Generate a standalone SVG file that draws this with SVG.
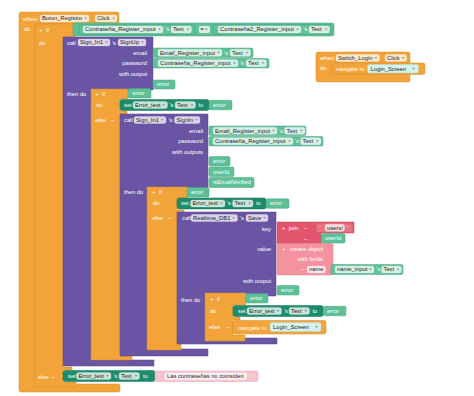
<svg xmlns="http://www.w3.org/2000/svg" width="474" height="396" viewBox="0 0 474 396">
<style>
text{font-family:"Liberation Sans",Arial,sans-serif;font-size:5.8px}
.w{fill:#fff}
.d{fill:#222}
.e{text-anchor:end}
.ev{fill:#F2A43B;stroke:#D68D2A;stroke-width:.5}
.pu{fill:#6A55A5;stroke:#56448C;stroke-width:.5}
.mi{fill:#5EC097;stroke:#47A47D;stroke-width:.5}
.st{fill:#1E8B6C;stroke:#16725A;stroke-width:.5}
.jn{fill:#E1566C;stroke:#C64459;stroke-width:.5}
.tx{fill:#E8707F;stroke:#CF5367;stroke-width:.5}
.co{fill:#F4939F;stroke:#DD7A87;stroke-width:.5}
.ps{fill:#F6C2CD;stroke:#E3A7B4;stroke-width:.5}
.lg{fill:#D7F1EC;stroke:#A8D9CF;stroke-width:.5}
.ch{fill:#fff;fill-opacity:.75;stroke:#fff;stroke-opacity:.5;stroke-width:.4}
.tri{fill:#9a9a9a}
</style>
<defs>
<path id="tri" class="tri" d="M0,0 h3 l-1.5,2 z"/>
</defs>
<rect width="474" height="396" fill="#fff"/>

<g id="connectors"></g>

<g id="when-boton-registro">
<path class="ev" d="M19,14 Q19,12 21,12 H117 Q119,12 119,14 V24 H35 V384 H118 Q120,384 120,386 V390 Q120,392 118,392 H21 Q19,392 19,390 Z"/>
<text class="w" x="23" y="20.5">when</text>
<rect class="ch" x="40" y="15" width="49" height="7" rx="2"/><text class="d" x="42" y="20.4">Boton_Registro</text><use href="#tri" x="84" y="17.5"/>
<rect class="ch" x="95" y="15" width="22" height="7" rx="2"/><text class="d" x="97" y="20.4">Click</text><use href="#tri" x="112" y="17.5"/>
<text class="w" x="24" y="31">do</text>
</g>

<g id="if-passwords-match">
<path class="ev" d="M35,24 H75 V37 H63 V367 H72 V370 H63 V382 H76 V387 H35 Z"/>
<text class="w" x="39" y="31.5">+</text><text class="w" x="46" y="31.5">if</text>
<text class="w" x="39" y="44.5">do</text>
<text class="w" x="38" y="378.5">else</text><text class="w" x="51" y="378.5">−</text>
</g>

<g id="compare-passwords">
<rect class="mi" x="73" y="23" width="261" height="13" rx="2"/>
<rect class="mi" x="79" y="24.5" width="116" height="10" rx="1.5"/>
<rect class="ch" x="83" y="26" width="80" height="7" rx="2"/><text class="d" x="85" y="31.4">Contraseña_Register_input</text><use href="#tri" x="158" y="28.5"/>
<text class="w" x="165.5" y="31.4">'s</text>
<rect class="ch" x="171" y="26" width="20.5" height="7" rx="2"/><text class="d" x="173" y="31.4">Text</text><use href="#tri" x="186.5" y="28.5"/>
<rect class="ch" x="199" y="26" width="11" height="7" rx="2"/><text class="d" x="200.5" y="31.4">=</text><use href="#tri" x="205" y="28.5"/>
<rect class="mi" x="213" y="24.5" width="119" height="10" rx="1.5"/>
<rect class="ch" x="218" y="26" width="83" height="7" rx="2"/><text class="d" x="220" y="31.4">Contraseña2_Register_input</text><use href="#tri" x="296" y="28.5"/>
<text class="w" x="303.5" y="31.4">'s</text>
<rect class="ch" x="309" y="26" width="20.5" height="7" rx="2"/><text class="d" x="311" y="31.4">Text</text><use href="#tri" x="324.5" y="28.5"/>
</g>

<g id="call-signup">
<path class="pu" d="M63,37 H153 V90 H91 V360 H154 V366 H63 Z"/>
<text class="w" x="67" y="44.5">call</text>
<rect class="ch" x="78" y="39" width="32" height="7" rx="2"/><text class="d" x="80" y="44.4">Sign_In1</text><use href="#tri" x="105" y="41.5"/>
<text class="w" x="112" y="44.5">'s</text>
<rect class="ch" x="118" y="39" width="28" height="7" rx="2"/><text class="d" x="120" y="44.4">SignUp</text><use href="#tri" x="141" y="41.5"/>
<text class="w e" x="147" y="54.5">email</text>
<text class="w e" x="147" y="65">password</text>
<text class="w e" x="147" y="75.5">with output</text>
<text class="w" x="67" y="96">then do</text>
<rect class="mi" x="153" y="48" width="100" height="9.5" rx="1.5"/>
<rect class="ch" x="158" y="49.2" width="64" height="7" rx="2"/><text class="d" x="160" y="54.6">Email_Register_input</text><use href="#tri" x="217" y="51.7"/>
<text class="w" x="224" y="54.6">'s</text>
<rect class="ch" x="230" y="49.2" width="20.5" height="7" rx="2"/><text class="d" x="232" y="54.6">Text</text><use href="#tri" x="245.5" y="51.7"/>
<rect class="mi" x="153" y="58.5" width="116" height="9.5" rx="1.5"/>
<rect class="ch" x="158" y="59.7" width="80" height="7" rx="2"/><text class="d" x="160" y="65.1">Contraseña_Register_input</text><use href="#tri" x="233" y="62.2"/>
<text class="w" x="240" y="65.1">'s</text>
<rect class="ch" x="246" y="59.7" width="20.5" height="7" rx="2"/><text class="d" x="248" y="65.1">Text</text><use href="#tri" x="261.5" y="62.2"/>
<rect class="mi" x="153" y="80" width="22" height="9" rx="1.5"/><text class="w" x="157" y="86.3">error</text>
</g>

<g id="if-signup-error">
<path class="ev" d="M91,89 H128 V99 H120 V111 H127 V114 H120 V354 H132 V360 H91 Z"/>
<text class="w" x="95" y="96">+</text><text class="w" x="102" y="96">if</text>
<text class="w" x="96" y="106.5">do</text>
<text class="w" x="95" y="121.5">else</text><text class="w" x="111" y="121.5">−</text>
<rect class="mi" x="128" y="88.5" width="23" height="9.5" rx="1.5"/><text class="w" x="132.5" y="95">error</text>
</g>

<g id="set-error-1">
<rect class="st" x="120" y="99.5" width="89" height="11" rx="2"/>
<text class="w" x="124" y="106.8">set</text>
<rect class="ch" x="133" y="101.5" width="34.5" height="7" rx="2"/><text class="d" x="135" y="106.9">Error_text</text><use href="#tri" x="162" y="104"/>
<text class="w" x="169.5" y="106.8">'s</text>
<rect class="ch" x="175" y="101.5" width="20.5" height="7" rx="2"/><text class="d" x="177" y="106.9">Text</text><use href="#tri" x="190.5" y="104"/>
<text class="w" x="198.5" y="106.8">to</text>
<rect class="mi" x="209" y="100.3" width="23" height="9.5" rx="1.5"/><text class="w" x="213" y="106.8">error</text>
</g>

<g id="call-signin">
<path class="pu" d="M120,114 H208 V189 H147 V349 H208 V356 H120 Z"/>
<text class="w" x="124" y="121.5">call</text>
<rect class="ch" x="134" y="116.5" width="32" height="7" rx="2"/><text class="d" x="136" y="121.9">Sign_In1</text><use href="#tri" x="161" y="119"/>
<text class="w" x="168.5" y="121.5">'s</text>
<rect class="ch" x="174.5" y="116.5" width="25.5" height="7" rx="2"/><text class="d" x="176.5" y="121.9">SignIn</text><use href="#tri" x="195" y="119"/>
<text class="w e" x="203" y="132.5">email</text>
<text class="w e" x="203" y="143">password</text>
<text class="w e" x="203" y="153.5">with outputs</text>
<text class="w" x="124" y="194">then do</text>
<rect class="mi" x="209" y="126" width="97" height="9.5" rx="1.5"/>
<rect class="ch" x="213" y="127.2" width="64" height="7" rx="2"/><text class="d" x="215" y="132.6">Email_Register_input</text><use href="#tri" x="272" y="129.7"/>
<text class="w" x="279" y="132.6">'s</text>
<rect class="ch" x="284.5" y="127.2" width="20.5" height="7" rx="2"/><text class="d" x="286.5" y="132.6">Text</text><use href="#tri" x="300" y="129.7"/>
<rect class="mi" x="209" y="136.5" width="114" height="9.5" rx="1.5"/>
<rect class="ch" x="213" y="137.7" width="80" height="7" rx="2"/><text class="d" x="215" y="143.1">Contraseña_Register_input</text><use href="#tri" x="288" y="140.2"/>
<text class="w" x="295" y="143.1">'s</text>
<rect class="ch" x="300.5" y="137.7" width="20.5" height="7" rx="2"/><text class="d" x="302.5" y="143.1">Text</text><use href="#tri" x="316" y="140.2"/>
<rect class="mi" x="209" y="156.5" width="21" height="9.5" rx="1.5"/><text class="w" x="213" y="163">error</text>
<rect class="mi" x="209" y="167" width="25" height="9.5" rx="1.5"/><text class="w" x="213" y="173.5">userId</text>
<rect class="mi" x="209" y="177.5" width="45" height="10" rx="1.5"/><text class="w" x="213" y="184.3">isEmailVerified</text>
</g>

<g id="if-signin-error">
<path class="ev" d="M147,187 H188 V198 H177 V210 H184 V213 H177 V344 H181 V350 H147 Z"/>
<text class="w" x="152" y="194">+</text><text class="w" x="159" y="194">if</text>
<text class="w" x="153" y="204.5">do</text>
<text class="w" x="152" y="219.5">else</text><text class="w" x="168" y="219.5">−</text>
<rect class="mi" x="187" y="187.5" width="22" height="9.5" rx="1.5"/><text class="w" x="191" y="194">error</text>
</g>

<g id="set-error-2">
<rect class="st" x="177" y="198" width="89" height="11" rx="2"/>
<text class="w" x="181" y="205.3">set</text>
<rect class="ch" x="190.5" y="200" width="34.5" height="7" rx="2"/><text class="d" x="192.5" y="205.4">Error_text</text><use href="#tri" x="220" y="202.5"/>
<text class="w" x="227" y="205.3">'s</text>
<rect class="ch" x="232.5" y="200" width="20.5" height="7" rx="2"/><text class="d" x="234.5" y="205.4">Text</text><use href="#tri" x="248" y="202.5"/>
<text class="w" x="256" y="205.3">to</text>
<rect class="mi" x="266" y="198.8" width="23" height="9.5" rx="1.5"/><text class="w" x="270" y="205.3">error</text>
</g>

<g id="call-save">
<path class="pu" d="M177,212 H276 V296 H205 V338 H277 V344 H177 Z"/>
<text class="w" x="182" y="219.5">call</text>
<rect class="ch" x="191" y="214.5" width="46.5" height="7" rx="2"/><text class="d" x="193" y="219.9">Realtime_DB1</text><use href="#tri" x="232" y="217"/>
<text class="w" x="240" y="219.5">'s</text>
<rect class="ch" x="246" y="214.5" width="22" height="7" rx="2"/><text class="d" x="248" y="219.9">Save</text><use href="#tri" x="263" y="217"/>
<text class="w e" x="271" y="230.5">key</text>
<text class="w e" x="271" y="250.5">value</text>
<text class="w e" x="271" y="282.5">with output</text>
<text class="w" x="181" y="301.5">then do</text>
<rect class="mi" x="277" y="285.5" width="22" height="9.5" rx="1.5"/><text class="w" x="281" y="292">error</text>
</g>

<g id="join-key">
<path class="jn" d="M277,222 H354 V233 H321 V243.5 H277 Z"/>
<text class="w" x="282" y="230">+</text><text class="w" x="289" y="230">join</text><text class="w" x="304" y="230">−</text>
<text class="w" x="304" y="240.5">−</text>
<rect class="tx" x="316" y="223" width="37" height="9.5" rx="1.5"/>
<text class="w" x="319" y="229.7">“</text>
<rect class="ch" x="325" y="224.3" width="19.5" height="7" rx="2"/><text class="d" x="327" y="229.7">users/</text>
<text class="w" x="346.5" y="229.7">”</text>
<rect class="mi" x="321" y="233.5" width="24" height="9.5" rx="1.5"/><text class="w" x="325" y="240">userId</text>
</g>

<g id="create-object">
<rect class="co" x="277" y="243.5" width="56" height="31.5" rx="1.5"/>
<text class="w" x="282" y="250.5">+</text><text class="w" x="290" y="250.5">create object</text>
<text class="w e" x="323" y="260.8">with fields</text>
<text class="w" x="301" y="271.3">−</text>
<rect class="ch" x="307" y="266" width="18.5" height="7" rx="2"/><text class="d" x="309" y="271.4">name</text>
<rect class="mi" x="331" y="264.5" width="72" height="10" rx="1.5"/>
<rect class="ch" x="335" y="266" width="39" height="7" rx="2"/><text class="d" x="337" y="271.4">name_input</text><use href="#tri" x="369" y="268.5"/>
<text class="w" x="376.5" y="271.4">'s</text>
<rect class="ch" x="381.5" y="266" width="20" height="7" rx="2"/><text class="d" x="383.5" y="271.4">Text</text><use href="#tri" x="396.5" y="268.5"/>
</g>

<g id="if-save-error">
<path class="ev" d="M205,293 H246 V305 H233 V317 H240 V320 H233 V335 H245 V341 H205 Z"/>
<text class="w" x="210" y="301">+</text><text class="w" x="217" y="301">if</text>
<text class="w" x="210" y="312.5">do</text>
<text class="w" x="209" y="328.5">else</text><text class="w" x="226" y="328.5">−</text>
<rect class="mi" x="246" y="293.5" width="22" height="9.5" rx="1.5"/><text class="w" x="250" y="300">error</text>
</g>

<g id="set-error-3">
<rect class="st" x="233" y="305.5" width="90" height="11" rx="2"/>
<text class="w" x="238" y="312.8">set</text>
<rect class="ch" x="247" y="307.5" width="34.5" height="7" rx="2"/><text class="d" x="249" y="312.9">Error_text</text><use href="#tri" x="276.5" y="310"/>
<text class="w" x="284" y="312.8">'s</text>
<rect class="ch" x="289" y="307.5" width="20.5" height="7" rx="2"/><text class="d" x="291" y="312.9">Text</text><use href="#tri" x="304.5" y="310"/>
<text class="w" x="312.5" y="312.8">to</text>
<rect class="mi" x="323" y="306.3" width="23" height="9.5" rx="1.5"/><text class="w" x="327" y="312.8">error</text>
</g>

<g id="navigate-login-1">
<rect class="ev" x="233" y="320.5" width="93" height="13.5" rx="2"/>
<text class="w" x="238" y="329.5">navigate to</text>
<rect class="lg" x="270" y="322.5" width="51" height="9" rx="2"/><text class="d" x="273" y="328.9">Login_Screen</text><use href="#tri" x="315" y="326"/>
</g>

<g id="set-error-else">
<rect class="st" x="63" y="370.5" width="92" height="11" rx="2"/>
<text class="w" x="68" y="378">set</text>
<rect class="ch" x="76.5" y="372.5" width="34.5" height="7" rx="2"/><text class="d" x="78.5" y="377.9">Error_text</text><use href="#tri" x="106" y="375"/>
<text class="w" x="113.5" y="378">'s</text>
<rect class="ch" x="119" y="372.5" width="20.5" height="7" rx="2"/><text class="d" x="121" y="377.9">Text</text><use href="#tri" x="134.5" y="375"/>
<text class="w" x="143" y="378">to</text>
<rect class="ps" x="155" y="371" width="103" height="10.5" rx="1.5"/>
<text class="w" x="158.5" y="378">“</text>
<rect class="ch" x="165" y="372.7" width="82" height="7" rx="2"/><text class="d" x="167" y="378.1">Las contraseñas no coinsiden</text>
<text class="w" x="249.5" y="378">”</text>
</g>

<g id="when-switch-login">
<path class="ev" d="M316,54 Q316,52 318,52 H408 Q410,52 410,54 V63 H332 V74 H408 Q410,74 410,76 V80 Q410,82 408,82 H318 Q316,82 316,80 Z"/>
<text class="w" x="320" y="59.5">when</text>
<rect class="ch" x="336" y="54.5" width="43.5" height="7" rx="2"/><text class="d" x="338" y="59.9">Switch_Login</text><use href="#tri" x="374.5" y="57"/>
<rect class="ch" x="385" y="54.5" width="21.6" height="7" rx="2"/><text class="d" x="387" y="59.9">Click</text><use href="#tri" x="401.5" y="57"/>
<text class="w" x="320" y="70">do</text>
</g>

<g id="navigate-login-2">
<rect class="ev" x="332" y="63" width="93" height="11.5" rx="2"/>
<text class="w" x="336" y="70.8">navigate to</text>
<rect class="lg" x="367.5" y="64.5" width="51" height="8.5" rx="2"/><text class="d" x="370.5" y="70.6">Login_Screen</text><use href="#tri" x="412" y="67.8"/>
</g>
</svg>
